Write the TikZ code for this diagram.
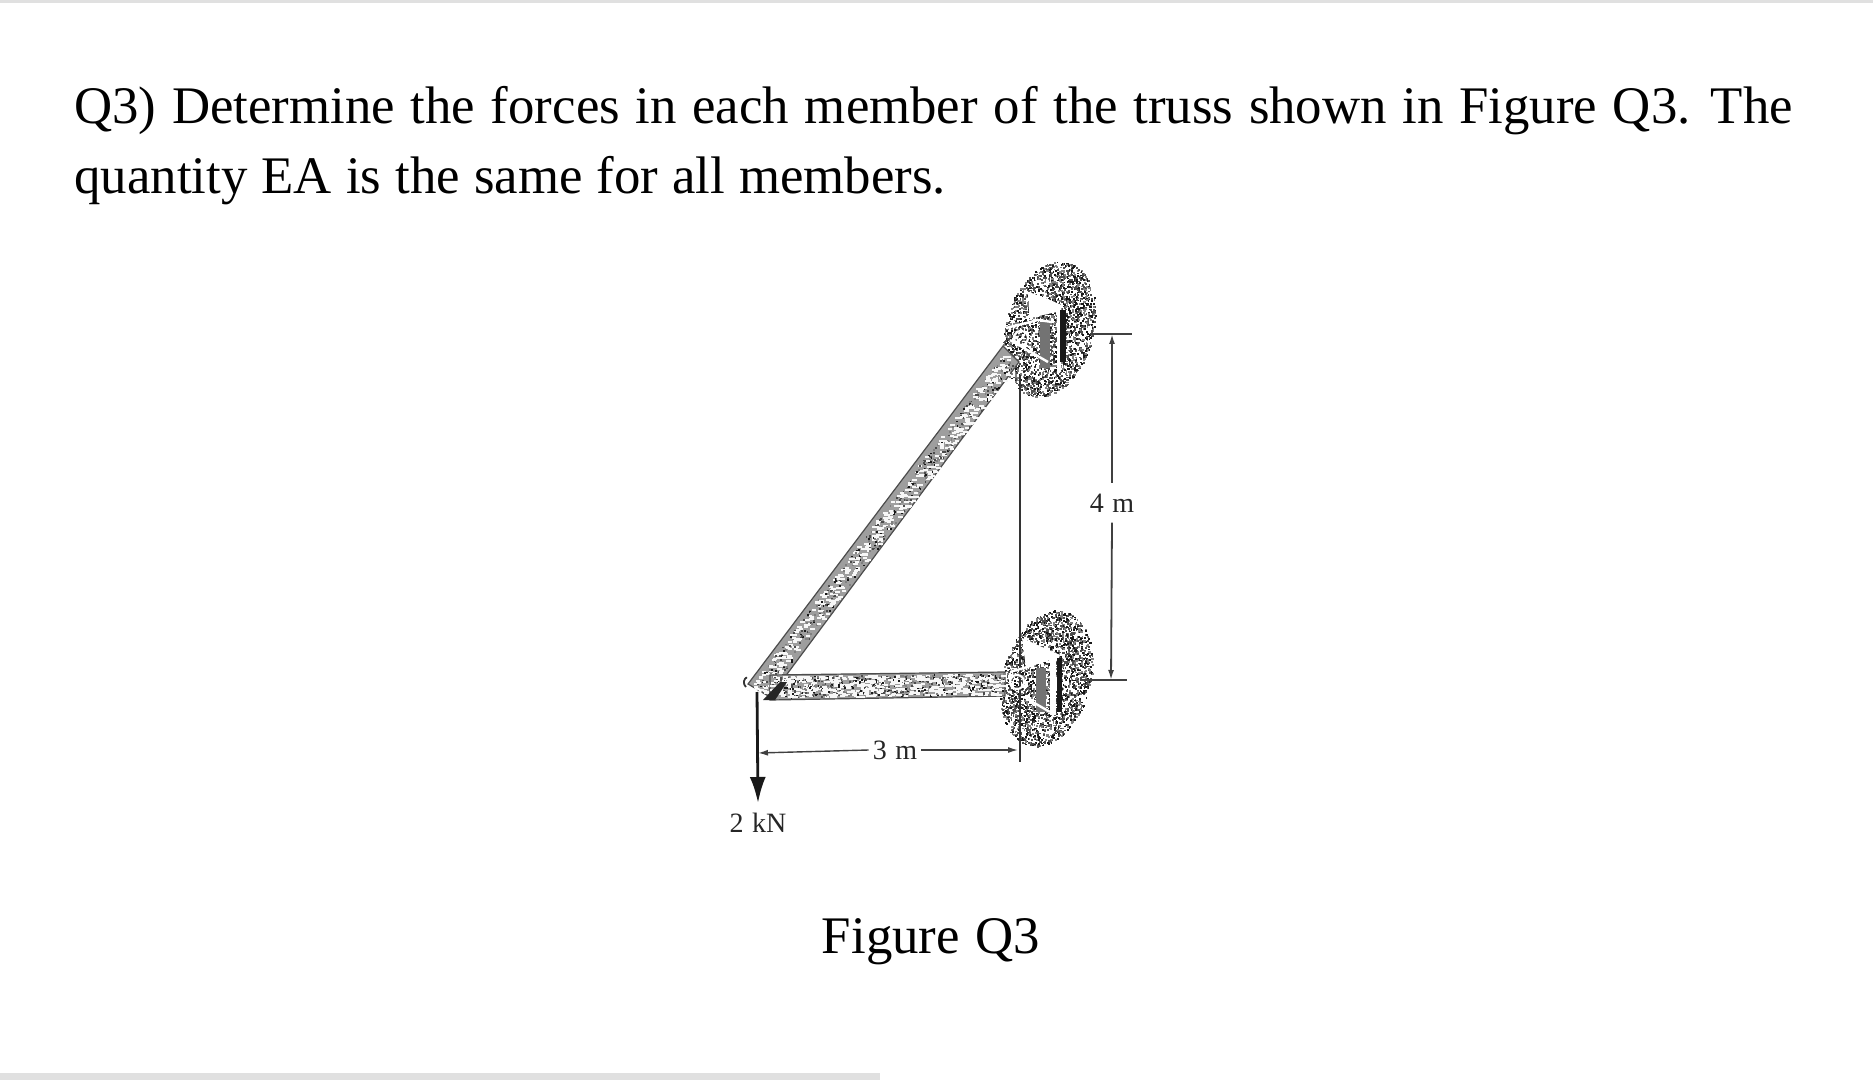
\documentclass[tikz,border=0pt]{standalone}
\usepackage{fontspec}
\setmainfont[WordSpace=1.19]{Liberation Serif}
\newfontfamily\tightserif[WordSpace=1.07]{Liberation Serif}
\usetikzlibrary{arrows.meta}
\definecolor{dotA}{gray}{0.10}
\definecolor{dotB}{gray}{0.30}
\definecolor{dotC}{gray}{0.50}
\definecolor{dotW}{gray}{0.97}
\newcommand{\speck}[3]{% centre x, centre y, size
  \pgfmathrandominteger{\cidx}{1}{3}%
  \ifnum\cidx=1\def\ccol{dotA}\fi
  \ifnum\cidx=2\def\ccol{dotB}\fi
  \ifnum\cidx=3\def\ccol{dotC}\fi
  \fill[\ccol] (#1-#3,#2-#3) rectangle (#1+#3,#2+#3);}
\newcommand{\wallpatch}[3]{% cx, cy, count
  \foreach \n in {1,...,#3}{
    \pgfmathsetmacro{\ang}{rnd*360}
    \pgfmathsetmacro{\rad}{sqrt(rnd)}
    \pgfmathsetmacro{\ux}{45*\rad*cos(\ang)}
    \pgfmathsetmacro{\uy}{68*\rad*sin(\ang)}
    \pgfmathsetmacro{\px}{#1+\ux-0.16*\uy}
    \pgfmathsetmacro{\py}{#2+\uy}
    \speck{\px}{\py}{0.9}
  }}
\newcommand{\barpatch}[7]{% origin x,y; length vector; width vector; count
  \foreach \n in {1,...,#7}{
    \pgfmathsetmacro{\sa}{rnd}
    \pgfmathsetmacro{\sb}{rnd}
    \pgfmathsetmacro{\px}{#1+\sa*#3+\sb*#5}
    \pgfmathsetmacro{\py}{#2+\sa*#4+\sb*#6}
    \fill[dotW] (\px-2.2,\py-1) rectangle (\px+2.2,\py+1);
    \pgfmathsetmacro{\sc}{rnd}
    \pgfmathsetmacro{\sd}{rnd}
    \pgfmathsetmacro{\qx}{#1+\sc*#3+\sd*#5}
    \pgfmathsetmacro{\qy}{#2+\sc*#4+\sd*#6}
    \speck{\qx}{\qy}{0.9}
  }}
\tikzset{
  body/.style={font=\fontsize{26.4pt}{30pt}\selectfont,anchor=base west,inner sep=0pt},
  dimlabel/.style={font=\fontsize{14pt}{16pt}\selectfont,inner sep=0pt,text=black!85},
  thinline/.style={draw=black!80,line width=0.7pt},
  dimline/.style={draw=black!75,line width=0.7pt},
  loadarrow/.style={draw=black!90,line width=1.4pt,-{Latex[length=13pt,width=8pt]}},
  barfill/.style={fill=black!38,draw=black!70,line width=0.6pt},
  shadowbar/.style={fill=black!12,draw=none},
  bracketwhite/.style={fill=white,draw=none},
  bracketdark/.style={fill=black!90,draw=none},
}
\begin{document}
\begin{tikzpicture}[x=0.5pt,y=-0.5pt]
\useasboundingbox (0,0) rectangle (1873,1080);
\pgfmathsetseed{4711}
% page edge shadows
\fill[shadowbar] (0,0) rectangle (1873,3);
\fill[shadowbar] (0,1073) rectangle (880,1080);
% text
\node[body] (line1) at (74,124) {Q3) Determine the forces in each member of the truss shown in Figure Q3. The};
\node[body] (line2) at (74,194) {\tightserif quantity EA is the same for all members.};
\node[body,anchor=base] (figcap) at (931,953) {Figure Q3};
% key points
\coordinate (joint) at (757,692);
% stippled wall patches
\wallpatch{1050}{330}{2500}
\wallpatch{1047}{679}{2600}
% cable (vertical member)
\draw[thinline,line width=1pt] (1020,375) -- (1020,762);
% diagonal member
\fill[barfill] (748,684) -- (1003,346) -- (1019,362) -- (770,697) -- cycle;
\barpatch{753}{686}{252}{-332}{13}{10}{420}
% horizontal member
\fill[barfill] (770,675) -- (1005,672) -- (1005,696) -- (770,700) -- cycle;
\barpatch{772}{677}{232}{-3}{0}{21}{520}
\fill[black!85] (763,700) -- (780,682) -- (787,682) -- (775,700) -- cycle;
% top bracket
\fill[bracketwhite] (1029,292) -- (1048,299) -- (1061,305) -- (1061,372) -- (1057,372) -- (1057,312) -- (1029,318) -- cycle;
\fill[bracketdark] (1060,310) rectangle (1066,362);
\fill[black!55] (1040,322) rectangle (1050,368);
\draw[white,line width=1.2pt] (1006,328) -- (1038,320) -- (1052,322);
\draw[white,line width=1.2pt] (1010,340) -- (1048,362);
\draw[white,line width=1.1pt] (1021,338) circle[radius=7];
% bottom bracket
\fill[bracketwhite] (1022,638) -- (1060,655) -- (1056,662) -- (1056,715) -- (1050,715) -- (1050,660) -- (1026,668) -- cycle;
\fill[bracketdark] (1057,658) rectangle (1062,712);
\fill[black!55] (1036,668) rectangle (1046,712);
\draw[white,line width=1.2pt] (1010,672) -- (1034,665);
\draw[white,line width=1.2pt] (1024,697) -- (1050,712);
\draw[white,line width=1.1pt] (1017,682) circle[radius=7];
% pin at free joint
\draw[black!80,line width=0.9pt] (746,687) arc[start angle=130,end angle=240,radius=6];
\draw[white,line width=1pt] (757,692) circle[radius=3.5];
% load
\draw[loadarrow] (joint) -- (758,803);
\node[dimlabel] (load) at (758,823) {2 kN};
% 3 m dimension
\coordinate (dimL) at (758,753);
\coordinate (dimR) at (1018,750);
\node[dimlabel] (three) at (895,750) {3 m};
\draw[dimline,{Latex[length=5pt,width=3pt]}-] (dimL) -- ([xshift=-2pt]three.west);
\draw[dimline,-{Latex[length=5pt,width=3pt]}] ([xshift=2pt]three.east) -- (dimR);
% 4 m dimension
\coordinate (dimT) at (1112,334);
\coordinate (dimB) at (1111,680);
\node[dimlabel] (four) at (1112,503) {4 m};
\draw[dimline,line width=0.9pt,{Latex[length=5pt,width=3pt]}-] (dimT) -- ([yshift=5pt]four.north);
\draw[dimline,line width=0.9pt,-{Latex[length=5pt,width=3pt]}] ([yshift=-5pt]four.south) -- (dimB);
\draw[dimline] (1090,334) -- (1132,334);
\draw[dimline] (1080,680) -- (1127,680);
\end{tikzpicture}
\end{document}
